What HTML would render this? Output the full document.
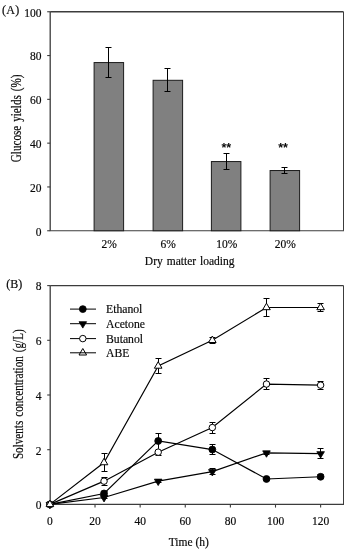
<!DOCTYPE html>
<html><head><meta charset="utf-8"><title>Figure</title>
<style>
html,body{margin:0;padding:0;background:#fff;}
svg{display:block}
text{font-family:"Liberation Serif","DejaVu Serif",serif;fill:#0a0a0a;stroke:#0a0a0a;stroke-width:0.18px;word-spacing:1.4px}
</style></head><body>
<svg width="347" height="550" viewBox="0 0 347 550">
<rect width="347" height="550" fill="#fff"/>

<g stroke="#3c3c3c" stroke-width="1.3" fill="none">
<path d="M50.2 11.75H343.5"/>
<path d="M343.5 11.75V230.75" stroke-width="1"/>
<path d="M50.2 11.75V230.75"/>
<path d="M49.6 230.75H344.0" stroke-width="1.1"/>
<line x1="47.2" x2="50.2" y1="230.75" y2="230.75" stroke-width="1.1"/>
<line x1="47.2" x2="50.2" y1="186.95" y2="186.95" stroke-width="1.1"/>
<line x1="47.2" x2="50.2" y1="143.15" y2="143.15" stroke-width="1.1"/>
<line x1="47.2" x2="50.2" y1="99.35" y2="99.35" stroke-width="1.1"/>
<line x1="47.2" x2="50.2" y1="55.55" y2="55.55" stroke-width="1.1"/>
<line x1="47.2" x2="50.2" y1="11.75" y2="11.75" stroke-width="1.1"/>
</g>
<rect x="94.10" y="62.56" width="29.5" height="168.19" fill="#808080" stroke="#1c1c1c" stroke-width="1"/>
<path d="M108.5 47.5V77.5M105.5 47.5H111.5M105.5 77.5H111.5" stroke="#000" stroke-width="1" fill="none"/>
<rect x="153.10" y="80.30" width="29.5" height="150.45" fill="#808080" stroke="#1c1c1c" stroke-width="1"/>
<path d="M167.5 68.5V91.5M164.5 68.5H170.5M164.5 91.5H170.5" stroke="#000" stroke-width="1" fill="none"/>
<rect x="211.40" y="161.55" width="29.5" height="69.20" fill="#808080" stroke="#1c1c1c" stroke-width="1"/>
<path d="M226.5 153.5V169.5M223.5 153.5H229.5M223.5 169.5H229.5" stroke="#000" stroke-width="1" fill="none"/>
<rect x="270.10" y="170.53" width="29.5" height="60.22" fill="#808080" stroke="#1c1c1c" stroke-width="1"/>
<path d="M284.5 167.5V173.5M281.5 167.5H287.5M281.5 173.5H287.5" stroke="#000" stroke-width="1" fill="none"/>
<text x="41.5" y="235.55" font-size="11.5" text-anchor="end">0</text>
<text x="41.5" y="191.75" font-size="11.5" text-anchor="end">20</text>
<text x="41.5" y="147.95" font-size="11.5" text-anchor="end">40</text>
<text x="41.5" y="104.15" font-size="11.5" text-anchor="end">60</text>
<text x="41.5" y="60.35" font-size="11.5" text-anchor="end">80</text>
<text x="41.5" y="16.55" font-size="11.5" text-anchor="end">100</text>
<text x="109.2" y="248.4" font-size="11.5" text-anchor="middle">2%</text>
<text x="168.2" y="248.4" font-size="11.5" text-anchor="middle">6%</text>
<text x="226.7" y="248.4" font-size="11.5" text-anchor="middle">10%</text>
<text x="285.2" y="248.4" font-size="11.5" text-anchor="middle">20%</text>
<text x="189.7" y="264.5" font-size="11.5" text-anchor="middle" style="word-spacing:1.1px">Dry matter loading</text>
<text transform="translate(20.7,118.4) rotate(-90) scale(0.82,1)" font-size="13.6" text-anchor="middle">Glucose yields (%)</text>
<text x="2" y="14.3" font-size="12" letter-spacing="0.3">(A)</text>
<text x="226.3" y="152.3" font-size="12.5" font-weight="bold" text-anchor="middle" style="font-family:'Liberation Sans',sans-serif;stroke:none">**</text>
<text x="283" y="152.3" font-size="12.5" font-weight="bold" text-anchor="middle" style="font-family:'Liberation Sans',sans-serif;stroke:none">**</text>
<g stroke="#3c3c3c" stroke-width="1.3" fill="none">
<path d="M50.2 285.6H343.5" stroke-width="1.1"/>
<path d="M343.5 285.6V504.4" stroke-width="1"/>
<path d="M50.2 285.6V504.4"/>
<path d="M49.6 504.4H344.0" stroke-width="1.1"/>
<line x1="47.2" x2="50.2" y1="504.40" y2="504.40" stroke-width="1.1"/>
<line x1="47.2" x2="50.2" y1="449.70" y2="449.70" stroke-width="1.1"/>
<line x1="47.2" x2="50.2" y1="395.00" y2="395.00" stroke-width="1.1"/>
<line x1="47.2" x2="50.2" y1="340.30" y2="340.30" stroke-width="1.1"/>
<line x1="47.2" x2="50.2" y1="285.60" y2="285.60" stroke-width="1.1"/>
<line x1="49.90" x2="49.90" y1="504.4" y2="507.59999999999997" stroke-width="1.1"/>
<line x1="95.02" x2="95.02" y1="504.4" y2="507.59999999999997" stroke-width="1.1"/>
<line x1="140.14" x2="140.14" y1="504.4" y2="507.59999999999997" stroke-width="1.1"/>
<line x1="185.26" x2="185.26" y1="504.4" y2="507.59999999999997" stroke-width="1.1"/>
<line x1="230.38" x2="230.38" y1="504.4" y2="507.59999999999997" stroke-width="1.1"/>
<line x1="275.50" x2="275.50" y1="504.4" y2="507.59999999999997" stroke-width="1.1"/>
<line x1="320.62" x2="320.62" y1="504.4" y2="507.59999999999997" stroke-width="1.1"/>
</g>
<polyline points="49.90,504.40 104.04,493.46 158.19,440.95 212.33,449.56 266.48,478.96 320.62,476.78" fill="none" stroke="#000" stroke-width="1.15"/>
<polyline points="49.90,504.40 104.04,497.56 158.19,481.15 212.33,471.58 266.48,452.85 320.62,453.67" fill="none" stroke="#000" stroke-width="1.15"/>
<polyline points="49.90,504.40 104.04,481.15 158.19,452.16 212.33,427.55 266.48,384.06 320.62,385.15" fill="none" stroke="#000" stroke-width="1.15"/>
<polyline points="49.90,504.40 104.04,462.55 158.19,366.01 212.33,340.30 266.48,307.48 320.62,307.48" fill="none" stroke="#000" stroke-width="1.15"/>
<path d="M104.5 491.5V495.5M101.5 491.5H107.5M101.5 495.5H107.5" stroke="#000" stroke-width="1" fill="none"/>
<path d="M158.5 433.5V448.5M155.5 433.5H161.5" stroke="#000" stroke-width="1" fill="none"/>
<path d="M212.5 444.5V454.5M209.5 444.5H215.5M209.5 454.5H215.5" stroke="#000" stroke-width="1" fill="none"/>
<path d="M266.5 477.5V480.5M263.5 477.5H269.5M263.5 480.5H269.5" stroke="#000" stroke-width="1" fill="none"/>
<path d="M320.5 474.5V478.5M317.5 474.5H323.5M317.5 478.5H323.5" stroke="#000" stroke-width="1" fill="none"/>
<circle cx="49.90" cy="504.40" r="3.45" fill="#000" stroke="#000" stroke-width="0.8"/>
<circle cx="104.04" cy="493.46" r="3.45" fill="#000" stroke="#000" stroke-width="0.8"/>
<circle cx="158.19" cy="440.95" r="3.45" fill="#000" stroke="#000" stroke-width="0.8"/>
<circle cx="212.33" cy="449.56" r="3.45" fill="#000" stroke="#000" stroke-width="0.8"/>
<circle cx="266.48" cy="478.96" r="3.45" fill="#000" stroke="#000" stroke-width="0.8"/>
<circle cx="320.62" cy="476.78" r="3.45" fill="#000" stroke="#000" stroke-width="0.8"/>
<path d="M104.5 496.5V498.5M101.5 496.5H107.5M101.5 498.5H107.5" stroke="#000" stroke-width="1" fill="none"/>
<path d="M158.5 479.5V482.5M155.5 479.5H161.5M155.5 482.5H161.5" stroke="#000" stroke-width="1" fill="none"/>
<path d="M212.5 468.5V474.5M209.5 468.5H215.5M209.5 474.5H215.5" stroke="#000" stroke-width="1" fill="none"/>
<path d="M266.5 451.5V454.5M263.5 451.5H269.5M263.5 454.5H269.5" stroke="#000" stroke-width="1" fill="none"/>
<path d="M320.5 448.5V458.5M317.5 448.5H323.5M317.5 458.5H323.5" stroke="#000" stroke-width="1" fill="none"/>
<path d="M49.90 508.80L53.70 502.40H46.10Z" fill="#000" stroke="#000" stroke-width="0.8"/>
<path d="M104.04 501.96L107.84 495.56H100.24Z" fill="#000" stroke="#000" stroke-width="0.8"/>
<path d="M158.19 485.55L161.99 479.15H154.39Z" fill="#000" stroke="#000" stroke-width="0.8"/>
<path d="M212.33 475.98L216.13 469.58H208.53Z" fill="#000" stroke="#000" stroke-width="0.8"/>
<path d="M266.48 457.25L270.28 450.85H262.68Z" fill="#000" stroke="#000" stroke-width="0.8"/>
<path d="M320.62 458.07L324.42 451.67H316.82Z" fill="#000" stroke="#000" stroke-width="0.8"/>
<path d="M104.5 477.5V485.5M101.5 477.5H107.5M101.5 485.5H107.5" stroke="#000" stroke-width="1" fill="none"/>
<path d="M158.5 448.5V455.5M155.5 455.5H161.5" stroke="#000" stroke-width="1" fill="none"/>
<path d="M212.5 422.5V433.5M209.5 422.5H215.5M209.5 433.5H215.5" stroke="#000" stroke-width="1" fill="none"/>
<path d="M266.5 378.5V389.5M263.5 378.5H269.5M263.5 389.5H269.5" stroke="#000" stroke-width="1" fill="none"/>
<path d="M320.5 381.5V389.5M317.5 381.5H323.5M317.5 389.5H323.5" stroke="#000" stroke-width="1" fill="none"/>
<circle cx="49.90" cy="504.40" r="3.25" fill="#fff" stroke="#000" stroke-width="1"/>
<circle cx="104.04" cy="481.15" r="3.25" fill="#fff" stroke="#000" stroke-width="1"/>
<circle cx="158.19" cy="452.16" r="3.25" fill="#fff" stroke="#000" stroke-width="1"/>
<circle cx="212.33" cy="427.55" r="3.25" fill="#fff" stroke="#000" stroke-width="1"/>
<circle cx="266.48" cy="384.06" r="3.25" fill="#fff" stroke="#000" stroke-width="1"/>
<circle cx="320.62" cy="385.15" r="3.25" fill="#fff" stroke="#000" stroke-width="1"/>
<path d="M104.5 453.5V471.5M101.5 453.5H107.5M101.5 471.5H107.5" stroke="#000" stroke-width="1" fill="none"/>
<path d="M158.5 358.5V373.5M155.5 358.5H161.5M155.5 373.5H161.5" stroke="#000" stroke-width="1" fill="none"/>
<path d="M212.5 337.5V343.5M209.5 337.5H215.5M209.5 343.5H215.5" stroke="#000" stroke-width="1" fill="none"/>
<path d="M266.5 298.5V316.5M263.5 298.5H269.5M263.5 316.5H269.5" stroke="#000" stroke-width="1" fill="none"/>
<path d="M320.5 303.5V311.5M317.5 303.5H323.5M317.5 311.5H323.5" stroke="#000" stroke-width="1" fill="none"/>
<path d="M49.90 500.10L53.70 506.60H46.10Z" fill="#fff" stroke="#000" stroke-width="1"/>
<path d="M104.04 458.25L107.84 464.75H100.24Z" fill="#fff" stroke="#000" stroke-width="1"/>
<path d="M158.19 361.71L161.99 368.21H154.39Z" fill="#fff" stroke="#000" stroke-width="1"/>
<path d="M212.33 336.00L216.13 342.50H208.53Z" fill="#fff" stroke="#000" stroke-width="1"/>
<path d="M266.48 303.18L270.28 309.68H262.68Z" fill="#fff" stroke="#000" stroke-width="1"/>
<path d="M320.62 303.18L324.42 309.68H316.82Z" fill="#fff" stroke="#000" stroke-width="1"/>
<text x="41.5" y="509.20" font-size="11.5" text-anchor="end">0</text>
<text x="41.5" y="454.50" font-size="11.5" text-anchor="end">2</text>
<text x="41.5" y="399.80" font-size="11.5" text-anchor="end">4</text>
<text x="41.5" y="345.10" font-size="11.5" text-anchor="end">6</text>
<text x="41.5" y="290.40" font-size="11.5" text-anchor="end">8</text>
<text x="49.90" y="525.3" font-size="11.5" text-anchor="middle">0</text>
<text x="95.02" y="525.3" font-size="11.5" text-anchor="middle">20</text>
<text x="140.14" y="525.3" font-size="11.5" text-anchor="middle">40</text>
<text x="185.26" y="525.3" font-size="11.5" text-anchor="middle">60</text>
<text x="230.38" y="525.3" font-size="11.5" text-anchor="middle">80</text>
<text x="275.50" y="525.3" font-size="11.5" text-anchor="middle">100</text>
<text x="320.62" y="525.3" font-size="11.5" text-anchor="middle">120</text>
<text x="188.8" y="545.7" font-size="11.5" text-anchor="middle" style="word-spacing:0">Time (h)</text>
<text transform="translate(23.4,394.2) rotate(-90) scale(0.82,1)" font-size="13.6" text-anchor="middle">Solvents concentration (g/L)</text>
<text x="6.3" y="287.5" font-size="12">(B)</text>
<line x1="70" x2="96" y1="309.10" y2="309.10" stroke="#000" stroke-width="1"/>
<circle cx="82.80" cy="309.10" r="3.45" fill="#000" stroke="#000" stroke-width="0.8"/>
<text x="106" y="313.00" font-size="11.7">Ethanol</text>
<line x1="70" x2="96" y1="323.70" y2="323.70" stroke="#000" stroke-width="1"/>
<path d="M82.80 328.10L86.60 321.70H79.00Z" fill="#000" stroke="#000" stroke-width="0.8"/>
<text x="106" y="327.60" font-size="11.7">Acetone</text>
<line x1="70" x2="96" y1="338.60" y2="338.60" stroke="#000" stroke-width="1"/>
<circle cx="82.80" cy="338.60" r="3.25" fill="#fff" stroke="#000" stroke-width="1"/>
<text x="106" y="342.50" font-size="11.7">Butanol</text>
<path d="M82.80 348.50L86.60 355.00H79.00Z" fill="#fff" stroke="#000" stroke-width="1"/>
<line x1="70" x2="96" y1="352.80" y2="352.80" stroke="#000" stroke-width="1"/>
<text x="106" y="356.70" font-size="11.7">ABE</text>
</svg></body></html>
